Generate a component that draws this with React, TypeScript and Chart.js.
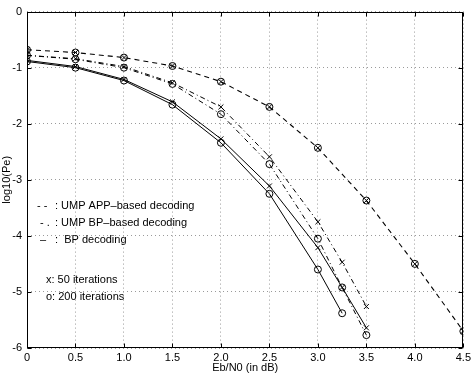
import React, { useEffect, useRef } from "react";
import { Chart, registerables } from "chart.js";

Chart.register(...registerables);

// ---- data ----
const xApp = [0, 0.5, 1, 1.5, 2, 2.5, 3, 3.5, 4, 4.5];
const app50 = [-0.68, -0.73, -0.82, -0.97, -1.25, -1.7, -2.43, -3.37, -4.5, -5.7];
const app200 = [-0.68, -0.73, -0.82, -0.97, -1.25, -1.7, -2.43, -3.37, -4.5, -5.7];

const xUmpBp = [0, 0.5, 1, 1.5, 2, 2.5, 3, 3.25, 3.5];
const umpBp50 = [-0.78, -0.84, -0.98, -1.27, -1.7, -2.59, -3.75, -4.47, -5.26];
const umpBp200 = [-0.78, -0.85, -1.0, -1.29, -1.83, -2.72, -4.05, -4.92, -5.77];

const xBp50 = [0, 0.5, 1, 1.5, 2, 2.5, 3, 3.25, 3.5];
const bp50 = [-0.87, -0.98, -1.21, -1.61, -2.27, -3.11, -4.21, -4.92, -5.64];
const xBp200 = [0, 0.5, 1, 1.5, 2, 2.5, 3, 3.25];
const bp200 = [-0.89, -1.0, -1.23, -1.66, -2.34, -3.25, -4.6, -5.38];

const legendPrefixes = ["- -", "- .", "\u2013"];
const legendLabels = [": UMP APP\u2013based decoding", ": UMP BP\u2013based decoding", ":  BP decoding"];
const iterationNotes = ["x: 50 iterations", "o: 200 iterations"];

const xTitle = "Eb/N0 (in dB)";
const yTitle = "log10(Pe)";

const FONT = '"Liberation Sans", Arial, Helvetica, sans-serif';

const pts = (xs: number[], ys: number[]) => xs.map((x, i) => ({ x, y: ys[i] }));

const framePlugin = {
  id: "frame",
  afterDraw(chart: any) {
    const { ctx, chartArea } = chart;
    const xs = chart.scales.x;
    const ys = chart.scales.y;
    const l = Math.round(chartArea.left) + 0.5;
    const r = Math.round(chartArea.right) - 0.5;
    const t = Math.round(chartArea.top) + 0.5;
    const b = Math.round(chartArea.bottom) - 0.5;
    ctx.save();
    ctx.strokeStyle = "#000";
    ctx.lineWidth = 1;
    ctx.setLineDash([]);
    ctx.strokeRect(l, t, r - l, b - t);
    const tl = 4;
    ctx.beginPath();
    xs.ticks.forEach((tk: any) => {
      const px = Math.round(xs.getPixelForValue(tk.value)) + 0.5;
      ctx.moveTo(px, b);
      ctx.lineTo(px, b - tl);
      ctx.moveTo(px, t);
      ctx.lineTo(px, t + tl);
    });
    ys.ticks.forEach((tk: any) => {
      const py = Math.round(ys.getPixelForValue(tk.value)) + 0.5;
      ctx.moveTo(l, py);
      ctx.lineTo(l + tl, py);
      ctx.moveTo(r, py);
      ctx.lineTo(r - tl, py);
    });
    ctx.stroke();

    ctx.fillStyle = "#000";
    ctx.font = `11px ${FONT}`;
    ctx.textBaseline = "middle";
    ctx.textAlign = "left";
    const legY = [206, 223, 240];
    const preX = [37, 40, 40];
    legendPrefixes.forEach((p, i) => {
      ctx.fillText(p, preX[i], legY[i]);
      ctx.fillText(legendLabels[i], 55, legY[i]);
    });
    const noteY = [280, 297];
    iterationNotes.forEach((n, i) => ctx.fillText(n, 46, noteY[i]));
    ctx.restore();
  },
};

export default function App() {
  const ref = useRef<HTMLCanvasElement | null>(null);

  useEffect(() => {
    if (!ref.current) return;
    const common = {
      borderColor: "#000",
      pointBorderColor: "#000",
      pointBackgroundColor: "rgba(0,0,0,0)",
      borderWidth: 1,
      pointBorderWidth: 1,
      pointRadius: 3.5,
      fill: false,
      tension: 0,
      showLine: true,
    };
    const chart = new Chart(ref.current, {
      type: "scatter",
      data: {
        datasets: [
          { ...common, label: "APP 50", data: pts(xApp, app50), showLine: false, pointStyle: "crossRot" },
          { ...common, label: "APP 200", data: pts(xApp, app200), borderDash: [5, 4], borderWidth: 1.1, pointStyle: "circle" },
          { ...common, label: "UMP BP 50", data: pts(xUmpBp, umpBp50), borderDash: [5, 3, 1, 3], pointStyle: "crossRot" },
          { ...common, label: "UMP BP 200", data: pts(xUmpBp, umpBp200), borderDash: [5, 3, 1, 3], pointStyle: "circle" },
          { ...common, label: "BP 50", data: pts(xBp50, bp50), pointStyle: "crossRot" },
          { ...common, label: "BP 200", data: pts(xBp200, bp200), pointStyle: "circle" },
        ] as any,
      },
      options: {
        animation: false,
        responsive: true,
        maintainAspectRatio: false,
        layout: { padding: { top: 4, right: 9, left: 0, bottom: 0 } },
        plugins: { legend: { display: false }, tooltip: { enabled: false } },
        scales: {
          x: {
            type: "linear",
            min: 0,
            max: 4.5,
            afterFit: (s: any) => { s.height = 27; },
            ticks: { stepSize: 0.5, color: "#000", padding: 3, font: { family: FONT, size: 11 }, maxRotation: 0 },
            grid: { color: "#9a9a9a", lineWidth: 1, drawTicks: false },
            border: { display: false, dash: [1, 3] },
            title: { display: true, text: xTitle, color: "#000", padding: 0, font: { family: FONT, size: 11 } },
          },
          y: {
            type: "linear",
            min: -6,
            max: 0,
            afterFit: (s: any) => { s.width = 27; },
            ticks: { stepSize: 1, color: "#000", padding: 5, font: { family: FONT, size: 11 } },
            grid: { color: "#9a9a9a", lineWidth: 1, drawTicks: false },
            border: { display: false, dash: [1, 3] },
            title: { display: true, text: yTitle, color: "#000", padding: 0, font: { family: FONT, size: 11 } },
          },
        },
      } as any,
      plugins: [framePlugin],
    });
    return () => chart.destroy();
  }, []);

  return (
    <div style={{ position: "fixed", left: 0, top: 0, width: 474, height: 375, background: "#fff" }}>
      <canvas ref={ref} />
    </div>
  );
}
